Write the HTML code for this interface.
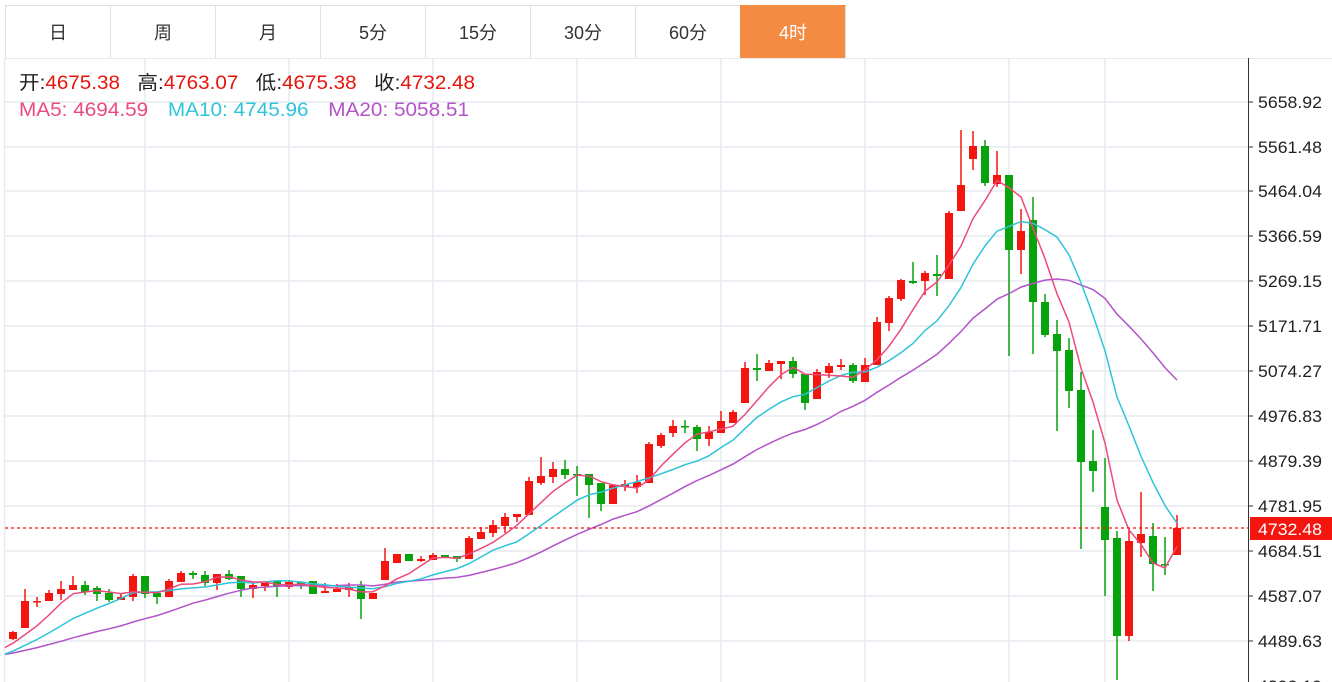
<!DOCTYPE html>
<html><head><meta charset="utf-8">
<style>
body{margin:0;background:#fff;width:1332px;height:682px;overflow:hidden;font-family:"Liberation Sans","Noto Sans CJK SC",sans-serif;}
#tabs{position:absolute;left:5px;top:5px;height:53px;display:flex;}
.tab{width:104px;height:52px;border:1px solid #e0e0e0;border-right:none;display:flex;align-items:center;justify-content:center;font-size:18px;color:#333;}
.tab:last-child{border-right:1px solid #e0e0e0}
.act{background:#f38b42;color:#fff;border-color:#f38b42}
svg{position:absolute;left:0;top:0}
</style></head><body>
<div id="tabs"><div class="tab">日</div><div class="tab">周</div><div class="tab">月</div><div class="tab">5分</div><div class="tab">15分</div><div class="tab">30分</div><div class="tab">60分</div><div class="tab act">4时</div></div>
<svg id="s" width="1332" height="682" xmlns="http://www.w3.org/2000/svg"></svg>
<script>
var S=document.getElementById('s'),h='';
var ys=[102,147,191,236,281,326,371,416,461,506,551,596,641,686];
var lb=['5658.92','5561.48','5464.04','5366.59','5269.15','5171.71','5074.27','4976.83','4879.39','4781.95','4684.51','4587.07','4489.63','4392.19'];
ys.forEach(function(y){h+='<line x1="5" x2="1248" y1="'+y+'" y2="'+y+'" stroke="#e5ebf1" stroke-width="1.5"/>';});
[145,289,433,577,721,865,1009,1105].forEach(function(x){h+='<line x1="'+x+'" x2="'+x+'" y1="58" y2="682" stroke="#e5ebf1" stroke-width="1.5"/>';});
h+='<line x1="4.5" x2="4.5" y1="58" y2="682" stroke="#e5ebf1" stroke-width="1.5"/>';
h+='<line x1="5" x2="1332" y1="58.5" y2="58.5" stroke="#e8e8e8" stroke-width="1"/>';
h+='<line x1="1248.5" x2="1248.5" y1="58" y2="682" stroke="#333" stroke-width="1"/>';
ys.forEach(function(y,i){h+='<line x1="1248" x2="1253" y1="'+y+'" y2="'+y+'" stroke="#333"/><text x="1258" y="'+(y+6)+'" font-size="16.5" textLength="64" lengthAdjust="spacingAndGlyphs" fill="#222">'+lb[i]+'</text>';});
var C=[[632,639,631,640,1],[601,628,589,628,1],[601,602,597,607,1],[593,601,590,601,1],[589,594,581,600,1],[585,590,576,590,1],[585,592,581,595,0],[588,594,586,601,0],[593,600,589,602,0],[597,600,593,600,1],
[576,597,574,601,1],[576,594,576,598,0],[593,597,593,604,0],[581,597,579,597,1],[573,582,571,582,1],[573,575,571,579,0],[575,583,571,586,0],[574,583,574,590,1],[574,579,570,580,0],[576,589,576,597,0],
[585,589,583,598,1],[583,586,583,591,1],[581,586,581,597,0],[582,587,580,589,1],[582,584,582,589,0],[581,594,581,594,0],[591,593,583,593,1],[589,592,584,592,1],[587,590,583,597,1],[586,599,581,619,0],
[593,599,593,599,1],[561,580,548,580,1],[554,563,554,563,1],[554,561,554,561,0],[559,561,556,562,1],[555,560,553,560,1],[555,558,555,558,0],[556,559,556,562,0],[538,559,536,559,1],[532,539,527,539,1],
[525,533,520,537,1],[517,526,513,533,1],[514,517,514,522,1],[481,515,477,515,1],[476,483,457,485,1],[469,477,462,483,1],[469,475,460,479,0],[474,475,466,496,0],[474,485,474,518,0],[483,504,483,511,0],
[485,504,485,504,1],[484,487,480,491,1],[482,487,475,493,1],[444,483,442,483,1],[435,446,433,448,1],[426,433,420,437,1],[426,427,420,433,0],[427,439,425,451,0],[432,439,426,446,1],[421,433,411,433,1],
[412,423,410,423,1],[368,403,362,403,1],[368,370,354,381,0],[363,371,360,371,1],[361,364,361,379,1],[361,374,357,378,0],[374,403,374,410,0],[372,399,369,399,1],[366,373,363,378,1],[365,367,359,370,1],
[365,381,363,383,0],[365,382,358,382,1],[322,365,317,365,1],[298,323,296,331,1],[280,299,279,301,1],[281,283,262,284,0],[273,281,271,295,1],[274,276,255,296,0],[213,279,211,279,1],[185,211,130,211,1],
[146,159,131,170,1],[146,183,140,186,0],[175,184,151,187,1],[175,250,175,356,0],[231,250,209,274,1],[220,302,197,354,0],[302,335,294,337,0],[334,351,320,431,0],[350,391,338,408,0],[390,462,372,549,0],
[461,471,430,492,0],[507,540,458,596,0],[538,636,531,680,0],[541,636,528,641,1],[534,543,492,557,1],[536,564,523,591,0],[564,565,537,575,0],[528,555,515,555,1]];
var cl=C.map(function(c){return c[4]?c[0]:c[1];});
var pre=[655,655,655,655,655,655,655,655,655,655,659,659,659,659,659,644,645,647,648];
var all=pre.concat(cl),P=pre.length;
function ma(n,col){var pts=[];for(var i=0;i<C.length;i++){var s=0;for(var k=0;k<n;k++)s+=all[P+i-k];pts.push([13+12*i,s/n]);}
pts.unshift([5,pts[0][1]+(pts[0][1]-pts[1][1])*0.5]);
h+='<polyline fill="none" stroke="'+col+'" stroke-width="1.5" points="'+pts.map(function(p){return p[0]+','+p[1].toFixed(1)}).join(' ')+'"/>';}
C.forEach(function(c,i){var x=13+12*i,col=c[4]?'#f5150f':'#07a30c';
h+='<line x1="'+x+'" x2="'+x+'" y1="'+c[2]+'" y2="'+c[3]+'" stroke="'+col+'" stroke-width="1.5"/>';
h+='<rect x="'+(x-4)+'" y="'+c[0]+'" width="8" height="'+Math.max(1.5,c[1]-c[0])+'" fill="'+col+'"/>';});
ma(20,'#b353c9');ma(10,'#2ec4da');ma(5,'#ec4a7c');
h+='<line x1="5" x2="1248" y1="528" y2="528" stroke="#f5150f" stroke-dasharray="3,3" stroke-width="1.2"/>';
h+='<rect x="1250" y="517" width="82" height="23" fill="#f5150f"/><text x="1258" y="535" font-size="16.5" textLength="64" lengthAdjust="spacingAndGlyphs" fill="#fff">4732.48</text>';
h+='<text x="19" y="89" font-size="19" textLength="456" lengthAdjust="spacingAndGlyphs"><tspan fill="#222">开:</tspan><tspan fill="#e8140c">4675.38</tspan><tspan fill="#222" dx="16">高:</tspan><tspan fill="#e8140c">4763.07</tspan><tspan fill="#222" dx="16">低:</tspan><tspan fill="#e8140c">4675.38</tspan><tspan fill="#222" dx="16">收:</tspan><tspan fill="#e8140c">4732.48</tspan></text>';
h+='<text x="19" y="116" font-size="19" textLength="450" lengthAdjust="spacingAndGlyphs"><tspan fill="#ec4a7c">MA5:  4694.59</tspan><tspan fill="#2ec4da" dx="18">MA10:  4745.96</tspan><tspan fill="#b353c9" dx="18">MA20:  5058.51</tspan></text>';
S.innerHTML=h;
</script>
</body></html>
